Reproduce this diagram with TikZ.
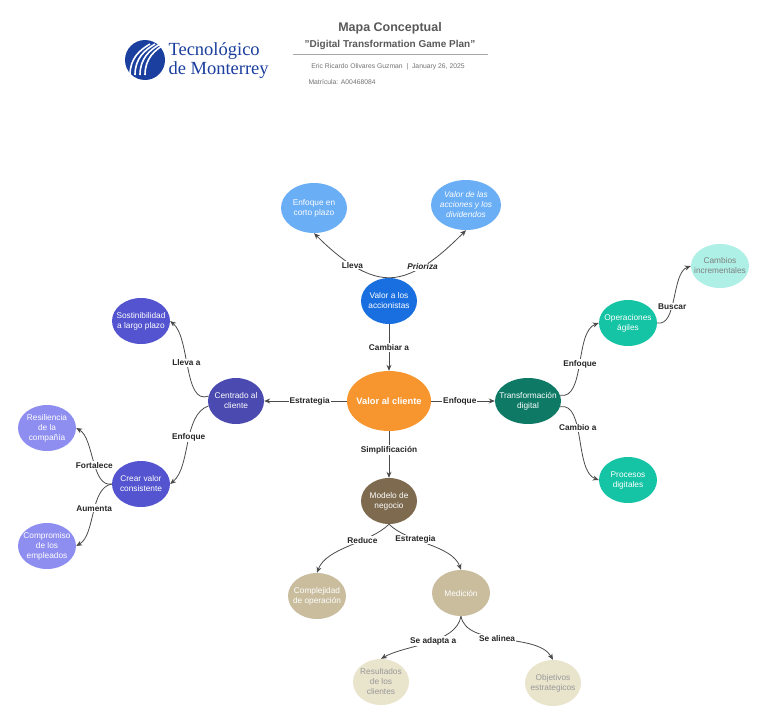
\documentclass[tikz,border=0pt]{standalone}
\usepackage{fontspec}
\setmainfont{Liberation Sans}
\newfontfamily\logofont{Liberation Serif}
\usetikzlibrary{arrows.meta,shapes.geometric}
\definecolor{corange}{HTML}{F7962F}
\definecolor{cblue}{HTML}{1A6FE0}
\definecolor{clblue}{HTML}{6AAEF5}
\definecolor{cind}{HTML}{4A4AB0}
\definecolor{cind2}{HTML}{5454D0}
\definecolor{cind3}{HTML}{8E8EF0}
\definecolor{cteal}{HTML}{0E7A66}
\definecolor{cteal2}{HTML}{14C4A4}
\definecolor{cteal3}{HTML}{AEEFE6}
\definecolor{cbrown}{HTML}{7D6A4F}
\definecolor{cbeige}{HTML}{C9BD9E}
\definecolor{cbeige2}{HTML}{E9E4CC}
\definecolor{logoblue}{HTML}{1B3F9E}
\definecolor{edgec}{HTML}{4A4A4A}
\begin{document}
\begin{tikzpicture}[x=1pt,y=-1pt,
  bub/.style 2 args={shape=ellipse,minimum width=#1,minimum height=#2,align=center,font=\fontsize{8.3}{10}\selectfont,text=white,inner sep=-8pt},
  lbl/.style={font=\bfseries\fontsize{8.3}{9.5}\selectfont,fill=white,inner sep=1pt,text=black!85},
  con/.style={draw=edgec,line width=0.8pt,looseness=0.8,-{Stealth[length=6pt,width=5pt]}}]
\useasboundingbox[fill=white] (0,0) rectangle (768,723);
% header
\node[font=\bfseries\fontsize{12.5}{14}\selectfont,text=black!65] (t1) at (390,28) {Mapa Conceptual};
\node[font=\bfseries\fontsize{10}{11}\selectfont,text=black!65] (t2) at (390,45) {"Digital Transformation Game Plan"};
\draw[black!35,line width=0.6pt] (293,54) -- (488,54);
\node[font=\fontsize{6.8}{7}\selectfont,text=black!55] (t3) at (388,67) {Eric Ricardo Olivares Guzman \ | \ January 26, 2025};
\node[font=\fontsize{6.8}{7}\selectfont,text=black!55,anchor=west] (t4) at (305,82) {Matrícula: A00468084};
% logo
\fill[logoblue] (145,60) circle (20);
\foreach \d in {0,5,10,15}{\draw[white,line width=1.6pt] (130+\d,75) .. controls (130+\d,58) and (140+\d,50) .. (150+\d,44);}
\node[font=\logofont\fontsize{18.5}{18}\selectfont,text=logoblue,anchor=west] (l1) at (165,51) {Tecnológico};
\node[font=\logofont\fontsize{18.5}{18}\selectfont,text=logoblue,anchor=west] (l2) at (165,70) {de Monterrey};
% nodes
\node[bub={84}{60},fill=corange,font=\bfseries\fontsize{9.3}{10}\selectfont] (vc) at (389,401) {Valor al cliente};
\node[bub={56}{46},fill=cblue] (va) at (389,301) {Valor a los\\accionistas};
\node[bub={66}{50},fill=clblue] (ec) at (314,208) {Enfoque en\\corto plazo};
\node[bub={70}{50},fill=clblue,font=\itshape\fontsize{8.3}{10}\selectfont] (vd) at (466,205) {Valor de las\\acciones y los\\dividendos};
\node[bub={56}{46},fill=cind] (cc) at (236,401) {Centrado al\\cliente};
\node[bub={58}{46},fill=cind2] (sl) at (141,321) {Sostinibilidad\\a largo plazo};
\node[bub={58}{46},fill=cind2] (cv) at (141,484) {Crear valor\\consistente};
\node[bub={58}{46},fill=cind3] (rc) at (47,428) {Resiliencia\\de la\\compañía};
\node[bub={58}{46},fill=cind3] (ce) at (47,546) {Compromiso\\de los\\empleados};
\node[bub={66}{46},fill=cteal] (td) at (528,401) {Transformación\\digital};
\node[bub={58}{46},fill=cteal2] (oa) at (628,323) {Operaciones\\ágiles};
\node[bub={58}{44},fill=cteal3,text=black!50] (ci) at (720,266) {Cambios\\incrementales};
\node[bub={58}{46},fill=cteal2] (pd) at (628,480) {Procesos\\digitales};
\node[bub={56}{46},fill=cbrown] (mn) at (389,501) {Modelo de\\negocio};
\node[bub={58}{46},fill=cbeige] (co) at (317,596) {Complejidad\\de operación};
\node[bub={58}{46},fill=cbeige] (me) at (461,593) {Medición};
\node[bub={56}{46},fill=cbeige2,text=black!40] (rl) at (381,682) {Resultados\\de los\\clientes};
\node[bub={56}{46},fill=cbeige2,text=black!40] (oe) at (553,683) {Objetivos\\estrategicos};
% edges
\draw[con] (va.north) to[out=180,in=-45] node[lbl,pos=0.45]{Lleva} (ec.south);
\draw[con] (va.north) to[out=0,in=-135] node[lbl,pos=0.4,font=\bfseries\itshape\fontsize{8.3}{9.5}\selectfont]{Prioriza} (vd.south);
\draw[con] (va) -- node[lbl]{Cambiar a} (vc);
\draw[con] (vc) -- node[lbl,pos=0.45]{Estrategia} (cc);
\draw[con] (vc) -- node[lbl,pos=0.45]{Enfoque} (td);
\draw[con] (vc) -- node[lbl,pos=0.4]{Simplificación} (mn);
\draw[con] (cc.170) to[out=200,in=-40] node[lbl,pos=0.55]{Lleva a} (sl.east);
\draw[con] (cc.190) to[out=200,in=40] node[lbl,pos=0.45]{Enfoque} (cv.east);
\draw[con] (cv.west) to[out=190,in=-30] node[lbl,pos=0.45]{Fortalece} (rc.east);
\draw[con] (cv.west) to[out=190,in=30] node[lbl,pos=0.45]{Aumenta} (ce.east);
\draw[con] (td.10) to[out=-10,in=200] node[lbl,pos=0.5]{Enfoque} (oa.west);
\draw[con] (oa.east) to[out=-10,in=200] node[lbl,pos=0.4]{Buscar} (ci.west);
\draw[con] (td.-10) to[out=10,in=160] node[lbl,pos=0.4]{Cambio a} (pd.west);
\draw[con] (mn.south) to[out=-135,in=70] node[lbl,pos=0.35]{Reduce} (co.north);
\draw[con] (mn.south) to[out=-45,in=110] node[lbl,pos=0.35]{Estrategia} (me.north);
\draw[con] (me.south) to[out=-100,in=30] node[lbl,pos=0.45]{Se adapta a} (rl.north);
\draw[con] (me.south) to[out=-80,in=120] node[lbl,pos=0.45]{Se alinea} (oe.north);
\end{tikzpicture}
\end{document}
